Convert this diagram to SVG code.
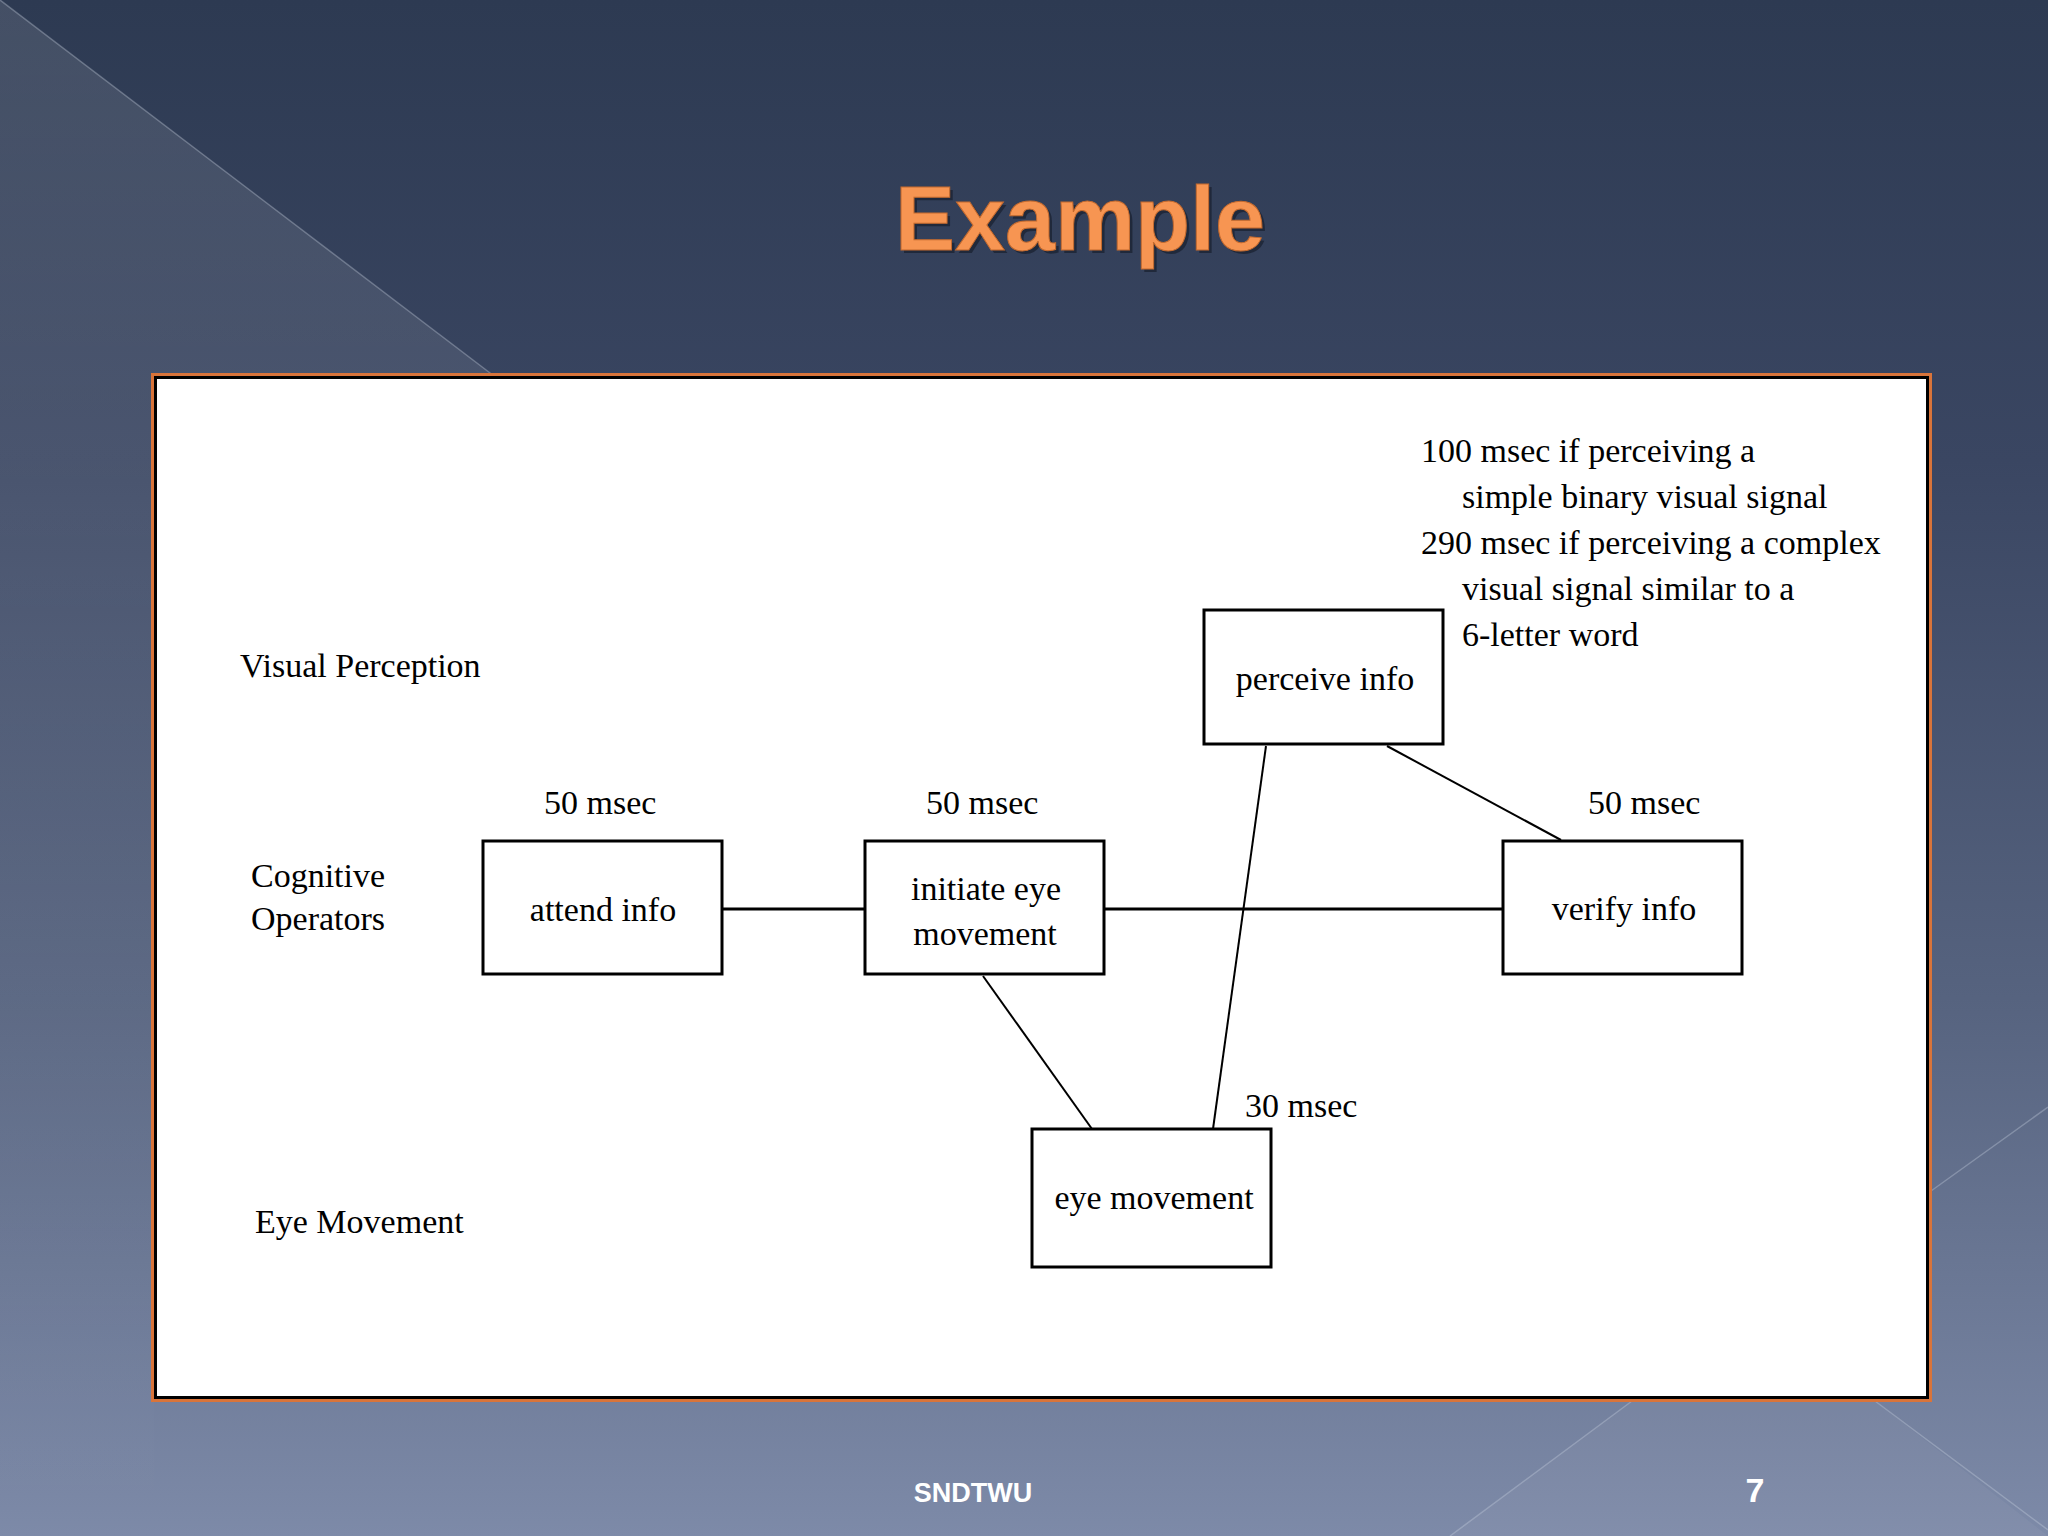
<svg xmlns="http://www.w3.org/2000/svg" width="2048" height="1536" viewBox="0 0 2048 1536">
  <defs>
    <linearGradient id="bg" x1="0" y1="0" x2="0" y2="1">
      <stop offset="0" stop-color="#2D3A52"/>
      <stop offset="0.3" stop-color="#3A4662"/>
      <stop offset="0.65" stop-color="#56637F"/>
      <stop offset="1" stop-color="#7D8AA8"/>
    </linearGradient>
    <linearGradient id="leftFade" x1="0" y1="0" x2="0" y2="1">
      <stop offset="0" stop-color="#ffffff" stop-opacity="0.11"/>
      <stop offset="0.6" stop-color="#ffffff" stop-opacity="0.05"/>
      <stop offset="1" stop-color="#ffffff" stop-opacity="0"/>
    </linearGradient>
    <style>
      .lbl { font-family: "Liberation Serif", "Times New Roman", serif; font-size: 34px; fill: #000; }
      .mid { text-anchor: middle; }
      .box { fill: #fff; stroke: #000; stroke-width: 3; }
      .edge { stroke: #000; fill: none; }
      .thick { stroke-width: 3; }
      .thin { stroke-width: 2; }
      .deco { stroke: #C8D0E0; stroke-opacity: 0.35; stroke-width: 1.5; fill: none; }
    </style>
  </defs>

  <!-- background -->
  <rect x="0" y="0" width="2048" height="1536" fill="url(#bg)"/>
  <polygon points="0,0 494,376 154,376 154,1536 0,1536" fill="url(#leftFade)"/>
  <line class="deco" x1="0" y1="0" x2="494" y2="376"/>
  <polygon points="1632,1401 1875,1401 2048,1536 1450,1536" fill="#ffffff" fill-opacity="0.04"/>
  <line class="deco" x1="1632" y1="1401" x2="1450" y2="1536"/>
  <line class="deco" x1="1875" y1="1401" x2="2048" y2="1530"/>
  <line class="deco" x1="2048" y1="1107" x2="1931" y2="1191"/>

  <!-- title -->
  <text x="1083" y="253" font-family="Liberation Sans, Arial, sans-serif" font-size="90" font-weight="bold" text-anchor="middle" fill="#1B2333" fill-opacity="0.8">Example</text>
  <text x="1080" y="250" font-family="Liberation Sans, Arial, sans-serif" font-size="90" font-weight="bold" text-anchor="middle" fill="#F79552" stroke="#C46A2E" stroke-width="1">Example</text>

  <!-- panel -->
  <rect x="151" y="373" width="1781" height="1029" fill="#D9743A"/>
  <rect x="154" y="376" width="1775" height="1023" fill="#000"/>
  <rect x="157" y="379" width="1769" height="1017" fill="#ffffff"/>

  <!-- row labels -->
  <text class="lbl" x="240" y="677">Visual Perception</text>
  <text class="lbl" x="251" y="887">Cognitive</text>
  <text class="lbl" x="251" y="930">Operators</text>
  <text class="lbl" x="255" y="1233">Eye Movement</text>

  <!-- connectors -->
  <g id="connectors">
    <line class="edge thick" x1="722" y1="909" x2="864" y2="909"/>
    <line class="edge thick" x1="1104" y1="909" x2="1503" y2="909"/>
    <line class="edge thin" x1="1266" y1="746" x2="1213" y2="1129"/>
    <line class="edge thin" x1="1387" y1="746" x2="1561" y2="840"/>
    <line class="edge thin" x1="983" y1="976" x2="1092" y2="1129"/>
  </g>

  <!-- duration labels -->
  <text class="lbl" x="544" y="814">50 msec</text>
  <text class="lbl" x="926" y="814">50 msec</text>
  <text class="lbl" x="1588" y="814">50 msec</text>
  <text class="lbl" x="1245" y="1117">30 msec</text>

  <g id="perceive-note">
    <text class="lbl" x="1421" y="462">100 msec if perceiving a</text>
    <text class="lbl" x="1462" y="508">simple binary visual signal</text>
    <text class="lbl" x="1421" y="554">290 msec if perceiving a complex</text>
    <text class="lbl" x="1462" y="600">visual signal similar to a</text>
    <text class="lbl" x="1462" y="646">6-letter word</text>
  </g>

  <!-- nodes -->
  <g id="attend-info">
    <rect class="box" x="483" y="841" width="239" height="133"/>
    <text class="lbl mid" x="603" y="921">attend info</text>
  </g>
  <g id="initiate-eye-movement">
    <rect class="box" x="865" y="841" width="239" height="133"/>
    <text class="lbl mid" x="986" y="900">initiate eye</text>
    <text class="lbl mid" x="985" y="945">movement</text>
  </g>
  <g id="verify-info">
    <rect class="box" x="1503" y="841" width="239" height="133"/>
    <text class="lbl mid" x="1624" y="920">verify info</text>
  </g>
  <g id="perceive-info">
    <rect class="box" x="1204" y="610" width="239" height="134"/>
    <text class="lbl mid" x="1325" y="690">perceive info</text>
  </g>
  <g id="eye-movement">
    <rect class="box" x="1032" y="1129" width="239" height="138"/>
    <text class="lbl mid" x="1154" y="1209">eye movement</text>
  </g>

  <!-- footer -->
  <text x="973" y="1502" font-family="Liberation Sans, Arial, sans-serif" font-size="27" font-weight="bold" text-anchor="middle" fill="#ffffff">SNDTWU</text>
  <text x="1755" y="1502" font-family="Liberation Sans, Arial, sans-serif" font-size="34" font-weight="bold" text-anchor="middle" fill="#ffffff">7</text>
</svg>
